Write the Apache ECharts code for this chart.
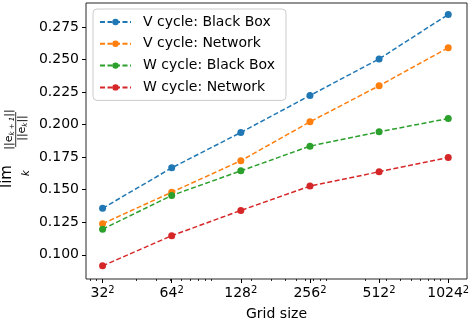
<!DOCTYPE html>
<html>
<head>
<meta charset="utf-8">
<script src="https://cdn.jsdelivr.net/npm/echarts@6/dist/echarts.min.js"></script>
<style>
html, body { margin: 0; padding: 0; background: #fff; }
#chart { width: 473px; height: 326px; }
</style>
</head>
<body>
<div id="chart"></div>
<script>
// grid side lengths n (the grid has n^2 points)
const gridSizes = [32, 64, 128, 256, 512, 1024];
const vBlackBox = [0.1357, 0.1668, 0.1940, 0.2224, 0.2505, 0.2847];
const vNetwork = [0.1239, 0.1481, 0.1723, 0.2022, 0.2299, 0.2591];
const wBlackBox = [0.1197, 0.1456, 0.1645, 0.1835, 0.1945, 0.2047];
const wNetwork = [0.0915, 0.1147, 0.1341, 0.1528, 0.1638, 0.1748];
const seriesNames = ["V cycle: Black Box", "V cycle: Network", "W cycle: Black Box", "W cycle: Network"];
const seriesColors = ["#1f77b4", "#ff7f0e", "#2ca02c", "#d62728"];
const yTicks = [0.1, 0.125, 0.15, 0.175, 0.2, 0.225, 0.25, 0.275];
// minor log ticks, in number of grid points (n^2)
const minorTicks = [800, 900,
  2000, 3000, 4000, 5000, 6000, 7000, 8000, 9000,
  20000, 30000, 40000, 50000, 60000, 70000, 80000, 90000,
  200000, 300000, 400000, 500000, 600000, 700000, 800000, 900000];

const xMin = 27.1, xMax = 1236;
const font = "DejaVu Sans";

const chart = echarts.init(document.getElementById("chart"));
const values = [vBlackBox, vNetwork, wBlackBox, wNetwork];

const fracRich = {
  a: { fontFamily: font, fontSize: 11, lineHeight: 13, color: "#000" },
  b: { fontFamily: font, fontSize: 7, fontStyle: "italic", lineHeight: 9, verticalAlign: "bottom", color: "#000" }
};
const up = Math.PI / 2;

chart.setOption({
  animation: false,
  textStyle: { fontFamily: font, color: "#000" },
  grid: {
    left: 86, right: 6, top: 3, bottom: 39.5,
    show: true, borderColor: "#262626", borderWidth: 1
  },
  legend: {
    orient: "vertical",
    left: 93, top: 9,
    padding: [6, 11, 6, 6],
    itemWidth: 31, itemHeight: 8, itemGap: 7.8,
    backgroundColor: "rgba(255,255,255,0.8)",
    borderColor: "#cccccc", borderWidth: 1, borderRadius: 4,
    textStyle: { fontFamily: font, fontSize: 14, lineHeight: 14, color: "#000", padding: [0, 0, 0, 7] },
    data: seriesNames
  },
  xAxis: [
    {
      type: "log", logBase: 2, min: xMin, max: xMax,
      name: "Grid size", nameLocation: "middle", nameGap: 28,
      nameTextStyle: { fontFamily: font, fontSize: 14, color: "#000" },
      axisLine: { show: false, onZero: false },
      axisTick: { show: true, length: 4, lineStyle: { color: "#000", width: 1 }, customValues: gridSizes },
      axisLabel: {
        fontFamily: font, fontSize: 14, color: "#000", margin: 6,
        customValues: gridSizes,
        formatter: v => "{b|" + Math.round(v) + "}{s|2}",
        rich: {
          b: { fontFamily: font, fontSize: 14, lineHeight: 16, color: "#000" },
          s: { fontFamily: font, fontSize: 10, lineHeight: 10, verticalAlign: "top", color: "#000" }
        }
      },
      splitLine: { show: false },
      minorTick: { show: false }
    },
    {
      type: "log", logBase: 10, min: xMin * xMin, max: xMax * xMax,
      position: "bottom",
      axisLine: { show: false, onZero: false },
      axisTick: { show: true, length: 2, lineStyle: { color: "#000", width: 0.8 }, customValues: minorTicks },
      axisLabel: { show: false },
      splitLine: { show: false }
    }
  ],
  yAxis: {
    type: "value", min: 0.0814, max: 0.2935,
    axisLine: { show: false },
    axisTick: { show: true, length: 4, lineStyle: { color: "#000", width: 1 }, customValues: yTicks },
    axisLabel: {
      fontFamily: font, fontSize: 14, color: "#000", margin: 7,
      customValues: yTicks,
      formatter: v => v.toFixed(3)
    },
    splitLine: { show: false }
  },
  // y axis title: lim_k ||e_{k+1}|| / ||e_k||, written bottom to top
  graphic: [
    { type: "text", x: 7.5, y: 188, rotation: up,
      style: { text: "lim", font: "15px 'DejaVu Sans'", fill: "#000", align: "left", verticalAlign: "middle" } },
    { type: "text", x: 26.5, y: 173, rotation: up,
      style: { text: "k", font: "italic 10px 'DejaVu Sans'", fill: "#000", align: "center", verticalAlign: "middle" } },
    { type: "text", x: 9.5, y: 129.5, rotation: up,
      style: { text: "{a|||e}{b|k + 1}{a|||}", fill: "#000", align: "center", verticalAlign: "middle", rich: fracRich } },
    { type: "line", shape: { x1: 15.7, y1: 112, x2: 15.7, y2: 147 }, style: { stroke: "#000", lineWidth: 0.8 } },
    { type: "text", x: 22, y: 128, rotation: up,
      style: { text: "{a|||e}{b|k}{a|||}", fill: "#000", align: "center", verticalAlign: "middle", rich: fracRich } }
  ],
  series: seriesNames.map((name, i) => ({
    name: name,
    type: "line",
    xAxisIndex: 0,
    data: gridSizes.map((n, j) => [n, values[i][j]]),
    symbol: "circle",
    symbolSize: 7,
    color: seriesColors[i],
    itemStyle: { color: seriesColors[i] },
    lineStyle: { color: seriesColors[i], width: 1.5, type: [5, 2.5] }
  }))
});
</script>
</body>
</html>
